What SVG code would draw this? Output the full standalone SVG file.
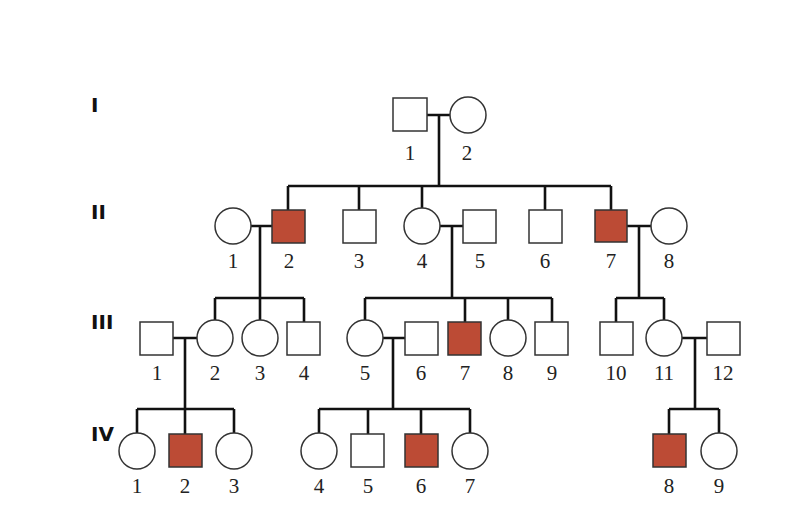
<svg xmlns="http://www.w3.org/2000/svg" width="804" height="514" viewBox="0 0 804 514">
<style>
.m{fill:#fff;stroke:#333;stroke-width:1.5}
.a{fill:#bc4b35;stroke:#333;stroke-width:1.5}
.l{fill:none;stroke:#111;stroke-width:2.6}
.n{font-family:"Liberation Serif",serif;font-size:21px;fill:#222;text-anchor:middle}
.g{font-family:"DejaVu Sans",sans-serif;font-weight:bold;font-size:20px;fill:#111}
</style>
<rect width="804" height="514" fill="#fff"/>
<g id="connectors">
<path class="l" d="M427 115H450M439 115V186M288 186H611M288 186V210M359 186V210M422 186V208M545 186V210M611 186V210"/>
<path class="l" d="M251 226H272M260 226V298M215 298H304M215 298V320M260 298V320M304 298V322"/>
<path class="l" d="M440 226H463M452 226V298M365 298H552M365 298V320M465 298V322M508 298V320M552 298V322"/>
<path class="l" d="M627 226H651M639 226V298M616 298H664M616 298V322M664 298V320"/>
<path class="l" d="M173 338H197M185 338V409M137 409H234M137 409V433M185 409V434M234 409V433"/>
<path class="l" d="M383 338H405M393 338V409M319 409H470M319 409V433M368 409V434M421 409V434M470 409V433"/>
<path class="l" d="M682 338H707M695 338V409M669 409H719M669 409V434M719 409V433"/>
</g>
<g id="gen-labels">
<text class="g" x="91" y="112">I</text>
<text class="g" x="91" y="219">II</text>
<text class="g" x="91" y="329">III</text>
<text class="g" x="91" y="441">IV</text>
</g>
<g id="I-1"><rect class="m" x="393" y="98" width="34" height="33"/><text class="n" x="410" y="160">1</text></g>
<g id="I-2"><circle class="m" cx="468" cy="115" r="18"/><text class="n" x="467" y="160">2</text></g>
<g id="II-1"><circle class="m" cx="233" cy="226" r="18"/><text class="n" x="233" y="268">1</text></g>
<g id="II-2"><rect class="a" x="272" y="210" width="33" height="33"/><text class="n" x="289" y="268">2</text></g>
<g id="II-3"><rect class="m" x="343" y="210" width="33" height="33"/><text class="n" x="359" y="268">3</text></g>
<g id="II-4"><circle class="m" cx="422" cy="226" r="18"/><text class="n" x="422" y="268">4</text></g>
<g id="II-5"><rect class="m" x="463" y="210" width="33" height="33"/><text class="n" x="480" y="268">5</text></g>
<g id="II-6"><rect class="m" x="529" y="210" width="33" height="33"/><text class="n" x="545" y="268">6</text></g>
<g id="II-7"><rect class="a" x="595" y="210" width="32" height="32"/><text class="n" x="611" y="268">7</text></g>
<g id="II-8"><circle class="m" cx="669" cy="226" r="18"/><text class="n" x="669" y="268">8</text></g>
<g id="III-1"><rect class="m" x="140" y="322" width="33" height="33"/><text class="n" x="157" y="380">1</text></g>
<g id="III-2"><circle class="m" cx="215" cy="338" r="18"/><text class="n" x="215" y="380">2</text></g>
<g id="III-3"><circle class="m" cx="260" cy="338" r="18"/><text class="n" x="260" y="380">3</text></g>
<g id="III-4"><rect class="m" x="287" y="322" width="33" height="33"/><text class="n" x="304" y="380">4</text></g>
<g id="III-5"><circle class="m" cx="365" cy="338" r="18"/><text class="n" x="365" y="380">5</text></g>
<g id="III-6"><rect class="m" x="405" y="322" width="33" height="33"/><text class="n" x="421" y="380">6</text></g>
<g id="III-7"><rect class="a" x="448" y="322" width="33" height="33"/><text class="n" x="465" y="380">7</text></g>
<g id="III-8"><circle class="m" cx="508" cy="338" r="18"/><text class="n" x="508" y="380">8</text></g>
<g id="III-9"><rect class="m" x="535" y="322" width="33" height="33"/><text class="n" x="552" y="380">9</text></g>
<g id="III-10"><rect class="m" x="600" y="322" width="33" height="33"/><text class="n" x="616" y="380">10</text></g>
<g id="III-11"><circle class="m" cx="664" cy="338" r="18"/><text class="n" x="664" y="380">11</text></g>
<g id="III-12"><rect class="m" x="707" y="322" width="33" height="33"/><text class="n" x="723" y="380">12</text></g>
<g id="IV-1"><circle class="m" cx="137" cy="451" r="18"/><text class="n" x="137" y="493">1</text></g>
<g id="IV-2"><rect class="a" x="169" y="434" width="33" height="33"/><text class="n" x="185" y="493">2</text></g>
<g id="IV-3"><circle class="m" cx="234" cy="451" r="18"/><text class="n" x="234" y="493">3</text></g>
<g id="IV-4"><circle class="m" cx="319" cy="451" r="18"/><text class="n" x="319" y="493">4</text></g>
<g id="IV-5"><rect class="m" x="351" y="434" width="33" height="33"/><text class="n" x="368" y="493">5</text></g>
<g id="IV-6"><rect class="a" x="405" y="434" width="33" height="33"/><text class="n" x="421" y="493">6</text></g>
<g id="IV-7"><circle class="m" cx="470" cy="451" r="18"/><text class="n" x="470" y="493">7</text></g>
<g id="IV-8"><rect class="a" x="653" y="434" width="33" height="33"/><text class="n" x="669" y="493">8</text></g>
<g id="IV-9"><circle class="m" cx="719" cy="451" r="18"/><text class="n" x="719" y="493">9</text></g>
</svg>
